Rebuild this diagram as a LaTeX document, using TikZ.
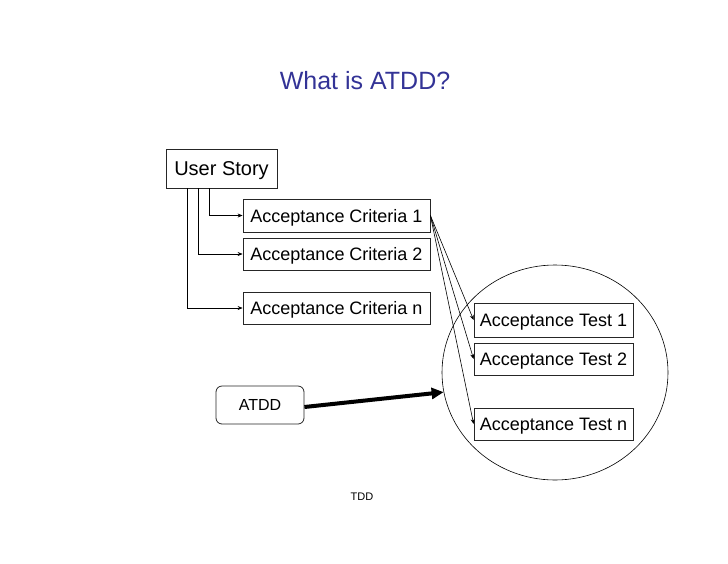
\documentclass[tikz,border=0pt]{standalone}
\usepackage{fontspec}
\setmainfont{Liberation Sans}
\usetikzlibrary{shapes.geometric,arrows.meta}
\definecolor{titleblue}{RGB}{51,51,150}
\tikzset{
  box/.style={draw=black!85, line width=0.8pt, inner sep=0pt, align=center, text depth=0pt},
  acbox/.style={box, minimum width=187pt, minimum height=32pt, font=\fontsize{18}{20}\selectfont},
  atbox/.style={box, minimum width=159pt, minimum height=32pt, font=\fontsize{18}{20}\selectfont},
  conn/.style={line width=0.6pt, -{Stealth[length=5pt,width=4pt]}},
}
\begin{document}
\begin{tikzpicture}[x=1pt,y=-1pt]
\useasboundingbox (0,0) rectangle (728,563);
\node[font=\fontsize{25}{30}\selectfont, text=titleblue] (title) at (365,81) {What is ATDD?};
\node[box, minimum width=111pt, minimum height=39pt, font=\fontsize{20}{22}\selectfont] (us) at (221.5,168.5) {User Story};
\node[acbox, minimum height=33pt] (ac1) at (336.5,215.5) {Acceptance Criteria 1};
\node[acbox] (ac2) at (336.5,254) {Acceptance Criteria 2};
\node[acbox] (acn) at (336.5,308) {Acceptance Criteria n};
\node[draw, line width=0.6pt, ellipse, minimum width=226pt, minimum height=215pt, inner sep=0pt] (circ) at (555,372.5) {};
\node[atbox, minimum height=34pt] (at1) at (553.5,320) {Acceptance Test 1};
\node[atbox] (at2) at (553.5,359) {Acceptance Test 2};
\node[atbox] (atn) at (553.5,424) {Acceptance Test n};
\node[box, rounded corners=6pt, minimum width=88pt, minimum height=38pt, font=\fontsize{16}{18}\selectfont] (atdd) at (260,405) {ATDD};
\node[font=\fontsize{11}{13}\selectfont] (tdd) at (362,497) {TDD};
\draw[conn] (us.south west) ++(44,0) |- (ac1.west);
\draw[conn] (us.south west) ++(33,0) |- (ac2.west);
\draw[conn] (us.south west) ++(22,0) |- (acn.west);
\draw[conn] (ac1.east) -- (at1.west);
\draw[conn] (ac1.east) -- (at2.west);
\draw[conn] (ac1.east) -- (atn.west);
\draw[line width=4pt, -{Triangle[length=12pt,width=11pt]}] ([yshift=-2pt]atdd.east) -- (circ.190);
\end{tikzpicture}
\end{document}
